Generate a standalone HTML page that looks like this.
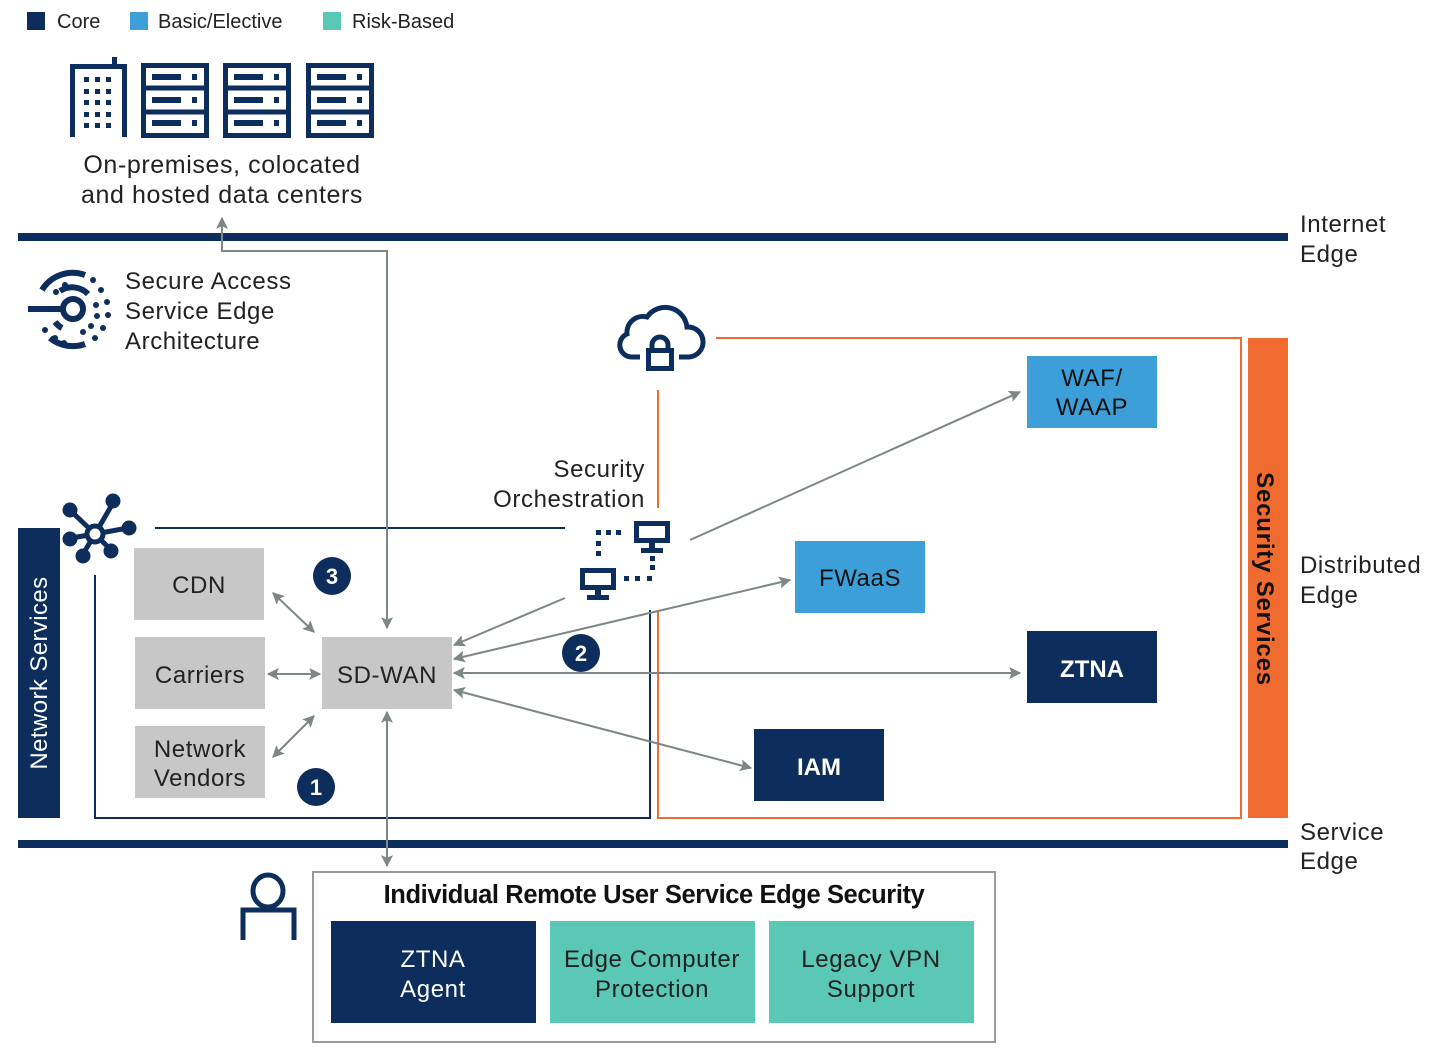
<!DOCTYPE html>
<html><head><meta charset="utf-8"><style>
html,body{margin:0;padding:0;background:#fff}
svg{display:block}
text{font-family:"Liberation Sans",sans-serif}
.w{letter-spacing:0.6px}
</style></head><body>
<svg width="1440" height="1052" viewBox="0 0 1440 1052" xmlns="http://www.w3.org/2000/svg">
<defs>
<marker id="ah" viewBox="0 0 10 10" refX="9" refY="5" markerWidth="12" markerHeight="12" markerUnits="userSpaceOnUse" orient="auto-start-reverse">
<path d="M0,0 L10,5 L0,10 L2,5 z" fill="#7d8786"/></marker>
</defs>
<!-- legend -->
<rect x="27" y="12" width="18" height="18" fill="#0d2d5c"/>
<text x="57" y="28" font-size="20" fill="#222">Core</text>
<rect x="130" y="12" width="18" height="18" fill="#3d9fd8"/>
<text x="158" y="28" font-size="20" fill="#222">Basic/Elective</text>
<rect x="323" y="12" width="18" height="18" fill="#5bc8b6"/>
<text x="352" y="28" font-size="20" fill="#222">Risk-Based</text>
<!-- building -->
<g fill="#0d2d5c">
<path d="M70,64 h42 v-7 h5 v7 h10 v73 h-5 v-68 h-47 v68 h-5 z"/>
<g>
<rect x="84" y="77" width="5" height="5"/><rect x="95" y="77" width="5" height="5"/><rect x="106" y="77" width="5" height="5"/>
<rect x="84" y="89" width="5" height="5"/><rect x="95" y="89" width="5" height="5"/><rect x="106" y="89" width="5" height="5"/>
<rect x="84" y="100" width="5" height="5"/><rect x="95" y="100" width="5" height="5"/><rect x="106" y="100" width="5" height="5"/>
<rect x="84" y="112" width="5" height="5"/><rect x="95" y="112" width="5" height="5"/><rect x="106" y="112" width="5" height="5"/>
<rect x="84" y="123" width="5" height="5"/><rect x="95" y="123" width="5" height="5"/><rect x="106" y="123" width="5" height="5"/>
</g>
</g>
<g id="srv" fill="none" stroke="#0d2d5c" stroke-width="5">
<rect x="143.5" y="65.5" width="63" height="70"/>
<line x1="143" y1="88" x2="207" y2="88"/><line x1="143" y1="112" x2="207" y2="112"/>
<g stroke="none" fill="#0d2d5c"><rect x="152" y="74" width="29" height="6"/><rect x="192" y="74" width="5" height="6"/>
<rect x="152" y="97" width="29" height="6"/><rect x="192" y="97" width="5" height="6"/>
<rect x="152" y="120" width="29" height="6"/><rect x="192" y="120" width="5" height="6"/></g>
</g>
<use href="#srv" x="82"/><use href="#srv" x="165"/>
<text class="w" x="222" y="173" font-size="25" fill="#222" text-anchor="middle">On-premises, colocated</text>
<text class="w" x="222" y="203" font-size="25" fill="#222" text-anchor="middle">and hosted data centers</text>
<!-- edges -->
<rect x="18" y="233" width="1270" height="8" fill="#0d2d5c"/>
<rect x="18" y="840" width="1270" height="8" fill="#0d2d5c"/>
<g font-size="24" fill="#222" class="w">
<text x="1300" y="232">Internet</text><text x="1300" y="262">Edge</text>
<text x="1300" y="573">Distributed</text><text x="1300" y="603">Edge</text>
<text x="1300" y="840">Service</text><text x="1300" y="869">Edge</text>
</g>
<!-- SASE icon -->
<g stroke="#0d2d5c" fill="none" stroke-width="6">
<circle cx="73" cy="309" r="10"/>
<line x1="28" y1="309" x2="63" y2="309"/>
<path d="M42,290 A36,36 0 0 1 85,275"/>
<path d="M85,344 A36,36 0 0 1 50,338"/>
<path d="M60,291 A22,22 0 0 1 88,294"/>
<path d="M55,322 A22,22 0 0 0 62,328"/>
</g>
<g fill="#0d2d5c">
<circle cx="65" cy="285" r="3"/><circle cx="56" cy="292" r="3"/><circle cx="93" cy="280" r="3"/><circle cx="101" cy="290" r="3"/><circle cx="107" cy="302" r="3"/><circle cx="108" cy="315" r="3"/><circle cx="103" cy="328" r="3"/><circle cx="95" cy="338" r="3"/><circle cx="96" cy="305" r="3"/><circle cx="97" cy="316" r="3"/><circle cx="91" cy="326" r="3"/><circle cx="83" cy="332" r="3"/><circle cx="45" cy="330" r="3"/><circle cx="55" cy="338" r="3"/><circle cx="64" cy="343" r="3"/>
</g>
<g font-size="24" fill="#222" class="w"><text x="125" y="289">Secure Access</text><text x="125" y="319">Service Edge</text><text x="125" y="349">Architecture</text></g>
<!-- orange frame -->
<g stroke="#ef6b30" stroke-width="2" fill="none">
<polyline points="716,338 1241,338 1241,818 658,818 658,610"/>
<line x1="658" y1="390" x2="658" y2="508"/>
</g>
<rect x="1248" y="338" width="40" height="480" fill="#ef6b30"/>
<text transform="translate(1257,579) rotate(90)" font-size="24" font-weight="bold" fill="#111" text-anchor="middle" letter-spacing="0.8">Security Services</text>
<!-- cloud -->
<g stroke="#0d2d5c" stroke-width="5" fill="none">
<path d="M640,357 h-8 a12,12 0 0 1 -5,-23 a16,16 0 0 1 20,-17 a22,22 0 0 1 40,10 a14,14 0 0 1 2,30 h-10"/>
<path d="M652,350 v-5 a8,8 0 0 1 16,0 v5"/>
<rect x="648.5" y="350.5" width="23" height="18"/>
</g>
<text class="w" x="645" y="477" font-size="24" fill="#222" text-anchor="end">Security</text>
<text class="w" x="645" y="507" font-size="24" fill="#222" text-anchor="end">Orchestration</text>
<!-- monitors -->
<g fill="#0d2d5c">
<path d="M634,521 h36 v22 h-15 v5 h8 v5 h-22 v-5 h8 v-5 h-15 z M639,526 v12 h26 v-12 z"/>
<path d="M580,568 h36 v22 h-15 v5 h8 v5 h-22 v-5 h8 v-5 h-15 z M585,573 v12 h26 v-12 z"/>
<rect x="596" y="530" width="5" height="5"/><rect x="606" y="530" width="5" height="5"/><rect x="616" y="530" width="5" height="5"/>
<rect x="596" y="541" width="5" height="5"/><rect x="596" y="551" width="5" height="5"/>
<rect x="624" y="576" width="5" height="5"/><rect x="635" y="576" width="5" height="5"/><rect x="647" y="576" width="5" height="5"/>
<rect x="650" y="565" width="5" height="5"/><rect x="650" y="556" width="5" height="5"/>
</g>
<!-- network services -->
<rect x="18" y="528" width="42" height="290" fill="#0d2d5c"/>
<text transform="translate(47,673) rotate(-90)" font-size="24" fill="#fff" text-anchor="middle" letter-spacing="0.4">Network Services</text>
<g stroke="#0d2d5c" stroke-width="2" fill="none">
<line x1="155" y1="528" x2="565" y2="528"/>
<polyline points="95,575 95,818 650,818 650,610"/>
</g>
<!-- hub -->
<g stroke="#0d2d5c" stroke-width="5" fill="#0d2d5c">
<line x1="95" y1="534" x2="113" y2="503"/><line x1="95" y1="534" x2="128" y2="528"/><line x1="95" y1="534" x2="72" y2="512"/><line x1="95" y1="534" x2="71" y2="538"/><line x1="95" y1="534" x2="83" y2="554"/><line x1="95" y1="534" x2="111" y2="550"/>
<circle cx="113" cy="501" r="5"/><circle cx="129" cy="528" r="5"/><circle cx="70" cy="510" r="5"/><circle cx="70" cy="539" r="5"/><circle cx="83" cy="556" r="5"/><circle cx="111" cy="551" r="5"/>
<circle cx="95" cy="534" r="8" fill="#fff"/>
</g>
<!-- gray boxes -->
<g fill="#c7c7c7"><rect x="134" y="548" width="130" height="72"/><rect x="135" y="637" width="130" height="72"/><rect x="135" y="726" width="130" height="72"/><rect x="322" y="637" width="130" height="72"/></g>
<g font-size="24" fill="#222" text-anchor="middle" class="w">
<text x="199" y="593">CDN</text><text x="200" y="683">Carriers</text><text x="200" y="757">Network</text><text x="200" y="786">Vendors</text><text x="387" y="683">SD-WAN</text>
</g>
<!-- colored boxes -->
<rect x="1027" y="356" width="130" height="72" fill="#3d9fd8"/>
<text class="w" x="1092" y="386" font-size="24" fill="#111" text-anchor="middle">WAF/</text><text class="w" x="1092" y="415" font-size="24" fill="#111" text-anchor="middle">WAAP</text>
<rect x="795" y="541" width="130" height="72" fill="#3d9fd8"/>
<text class="w" x="860" y="586" font-size="24" fill="#111" text-anchor="middle">FWaaS</text>
<rect x="1027" y="631" width="130" height="72" fill="#0d2d5c"/>
<text x="1092" y="677" font-size="24" font-weight="bold" fill="#fff" text-anchor="middle">ZTNA</text>
<rect x="754" y="729" width="130" height="72" fill="#0d2d5c"/>
<text x="819" y="775" font-size="24" font-weight="bold" fill="#fff" text-anchor="middle">IAM</text>
<!-- arrows -->
<g stroke="#7d8786" stroke-width="2" fill="none">
<polyline points="387,628 387,251 222,251 222,218" marker-start="url(#ah)" marker-end="url(#ah)"/>
<line x1="387" y1="712" x2="387" y2="866" marker-start="url(#ah)" marker-end="url(#ah)"/>
<line x1="268" y1="674" x2="320" y2="674" marker-start="url(#ah)" marker-end="url(#ah)"/>
<line x1="273" y1="593" x2="314" y2="632" marker-start="url(#ah)" marker-end="url(#ah)"/>
<line x1="273" y1="757" x2="314" y2="716" marker-start="url(#ah)" marker-end="url(#ah)"/>
<line x1="690" y1="540" x2="1020" y2="392" marker-end="url(#ah)"/>
<line x1="565" y1="598" x2="454" y2="645" marker-end="url(#ah)"/>
<line x1="454" y1="659" x2="790" y2="580" marker-start="url(#ah)" marker-end="url(#ah)"/>
<line x1="454" y1="673" x2="1020" y2="673" marker-start="url(#ah)" marker-end="url(#ah)"/>
<line x1="454" y1="690" x2="751" y2="768" marker-start="url(#ah)" marker-end="url(#ah)"/>
</g>
<!-- badges -->
<g font-size="22" font-weight="bold" fill="#fff" text-anchor="middle">
<circle cx="332" cy="576" r="19" fill="#0d2d5c"/><text x="332" y="584">3</text>
<circle cx="581" cy="653" r="19" fill="#0d2d5c"/><text x="581" y="661">2</text>
<circle cx="316" cy="787" r="19" fill="#0d2d5c"/><text x="316" y="795">1</text>
</g>
<!-- user -->
<g stroke="#0d2d5c" stroke-width="5" fill="none">
<ellipse cx="268" cy="891" rx="15" ry="16"/>
<polyline points="243,940 243,910 294,910 294,940"/>
</g>
<!-- bottom box -->
<rect x="313" y="872" width="682" height="170" fill="none" stroke="#9a9a9a" stroke-width="2"/>
<text x="654" y="903" font-size="25.5" font-weight="bold" fill="#111" text-anchor="middle" letter-spacing="-0.4">Individual Remote User Service Edge Security</text>
<rect x="331" y="921" width="205" height="102" fill="#0d2d5c"/>
<rect x="550" y="921" width="205" height="102" fill="#5bc8b6"/>
<rect x="769" y="921" width="205" height="102" fill="#5bc8b6"/>
<g font-size="24" text-anchor="middle" class="w">
<text x="433" y="967" fill="#fff">ZTNA</text><text x="433" y="997" fill="#fff">Agent</text>
<text x="652" y="967" fill="#222">Edge Computer</text><text x="652" y="997" fill="#222">Protection</text>
<text x="871" y="967" fill="#222">Legacy VPN</text><text x="871" y="997" fill="#222">Support</text>
</g>
</svg>
</body></html>
